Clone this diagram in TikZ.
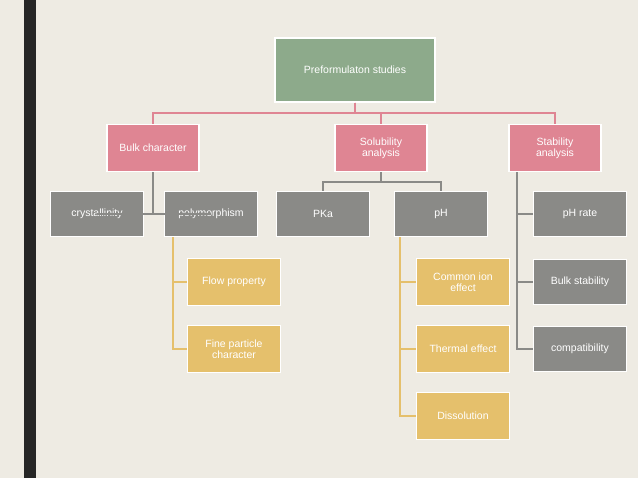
\documentclass[tikz,border=0pt]{standalone}
\usepackage{fontspec}
\setmainfont{Liberation Sans}
\definecolor{bg}{HTML}{EEEBE3}
\definecolor{sage}{HTML}{8DAA8B}
\definecolor{rose}{HTML}{DF8593}
\definecolor{slate}{HTML}{8A8A87}
\definecolor{gold}{HTML}{E5C06C}
\begin{document}
\begin{tikzpicture}[x=1pt,y=-1pt,font=\fontsize{10.5}{11}\selectfont]
    \tikzstyle{box}=[draw=white,line width=1.2pt,text=white,align=center,inner sep=1pt]
    \tikzstyle{top}=[box,fill=sage,minimum width=160pt,minimum height=64pt]
    \tikzstyle{bulk}=[box,fill=rose,minimum width=92pt,minimum height=47pt]
    \tikzstyle{item}=[box,fill=slate,minimum width=93pt,minimum height=45pt]
    \tikzstyle{leaf}=[box,fill=gold,minimum width=93pt,minimum height=47pt]
    \tikzstyle{link}=[line width=2pt]

    % background and left bar
    \fill[bg] (0,0) rectangle (638,478);
    \fill[black!85] (24,0) rectangle (36,478);
    \useasboundingbox (0,0) rectangle (638,478);

    % Draw the nodes
    \node[top] (P) at (355,70) {Preformulaton studies};
    \node[bulk] (B) at (153,148) {Bulk character};
    \node[bulk] (S) at (381,148) {Solubility\\analysis};
    \node[bulk] (T) at (555,148) {Stability\\analysis};

    \node[item] (C1) at (97,214) {crystallinity};
    \node[item] (C2) at (211,214) {polymorphism};
    \node[item] (C3) at (323,214) {PKa};
    \node[item] (C4) at (441,214) {pH};
    \node[item] (C5) at (580,214) {pH rate};
    \node[item] (C6) at (580,282) {Bulk stability};
    \node[item] (C7) at (580,349) {compatibility};

    \node[leaf] (F1) at (234,282) {Flow property};
    \node[leaf] (F2) at (234,349) {Fine particle\\character};
    \node[leaf] (H1) at (463,282) {Common ion\\effect};
    \node[leaf] (H2) at (463,349) {Thermal effect};
    \node[leaf] (H3) at (463,416) {Dissolution};

    % Connect the top with the second row
    \foreach \dst in {B,S,T}
        \draw[link,rose] (P.south) |- ++(0,10) -| (\dst.north);

    % Connect the second row with the items
    \foreach \dst in {C1,C2}
        \draw[link,slate] (B.south) |- ([yshift=0pt]\dst.center) ;
    \fill[slate] (B.south) ++(-1,0) rectangle ++(2,2);
    \foreach \dst in {C3,C4}
        \draw[link,slate] (S.south) |- ++(0,10) -| (\dst.north);
    \foreach \dst in {C5,C6,C7}
        \draw[link,slate] ([xshift=-38pt]T.south) |- (\dst.west);

    % Connect the leaves
    \foreach \dst in {F1,F2}
        \draw[link,gold] ([xshift=-38pt]C2.south) |- (\dst.west);
    \foreach \dst in {H1,H2,H3}
        \draw[link,gold] ([xshift=-41pt]C4.south) |- (\dst.west);
\end{tikzpicture}
\end{document}
